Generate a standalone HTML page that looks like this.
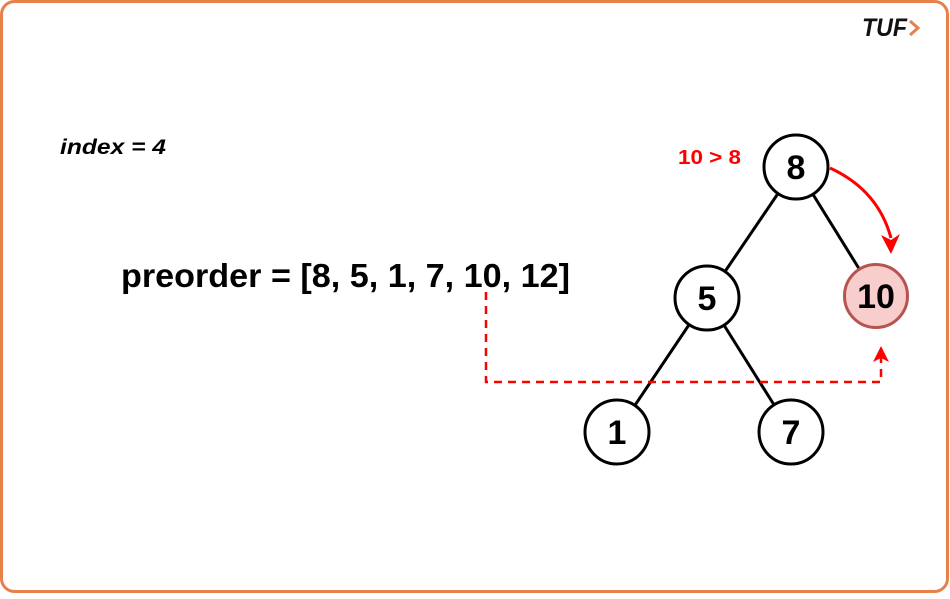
<!DOCTYPE html>
<html><head><style>
body{margin:0;width:950px;height:594px;background:#fff;overflow:hidden}
</style></head><body>
<svg width="950" height="594" xmlns="http://www.w3.org/2000/svg" font-family="Liberation Sans, Arial, sans-serif">
<rect x="1.5" y="1.5" width="946" height="590" rx="13" fill="#fff" stroke="#e8804a" stroke-width="3"/>
<text x="862" y="36" font-size="25" font-weight="bold" font-style="italic" fill="#111" textLength="45" lengthAdjust="spacingAndGlyphs">TUF</text>
<path d="M910 21 L918 28 L910 35" fill="none" stroke="#e8804a" stroke-width="3"/>
<text x="60" y="154" font-size="21" font-weight="bold" font-style="italic" textLength="106" lengthAdjust="spacingAndGlyphs">index = 4</text>
<text x="121" y="287" font-size="33" font-weight="bold" textLength="449" lengthAdjust="spacingAndGlyphs">preorder = [8, 5, 1, 7, 10, 12]</text>
<g stroke="#000" stroke-width="3">
<line x1="796" y1="167" x2="707" y2="298"/>
<line x1="796" y1="167" x2="876" y2="296"/>
<line x1="707" y1="298" x2="617" y2="432"/>
<line x1="707" y1="298" x2="791" y2="432"/>
</g>
<path d="M486 292 V382 H881 V358" fill="none" stroke="#f00" stroke-width="2.5" stroke-dasharray="8,6"/>
<path d="M873 362 L881 346 L889 362 L881 358 Z" fill="#f00"/>
<path d="M830 168 Q878 190 891 238" fill="none" stroke="#f00" stroke-width="3"/>
<path d="M881 235 L891 254 L900 234 L891 240 Z" fill="#f00"/>
<text x="678" y="164" font-size="20" font-weight="bold" fill="#f00" textLength="63" lengthAdjust="spacingAndGlyphs">10 &gt; 8</text>
<g stroke="#000" stroke-width="3" fill="#fff">
<circle cx="796" cy="167" r="32"/>
<circle cx="707" cy="298" r="32"/>
<circle cx="617" cy="432" r="32"/>
<circle cx="791" cy="432" r="32"/>
</g>
<circle cx="876" cy="296" r="31.5" fill="#f8cecc" stroke="#b85450" stroke-width="3"/>
<g font-size="34" font-weight="bold" text-anchor="middle">
<text x="796" y="179">8</text>
<text x="707" y="310">5</text>
<text x="617" y="444">1</text>
<text x="791" y="444">7</text>
<text x="876" y="308">10</text>
</g>
</svg>
</body></html>
